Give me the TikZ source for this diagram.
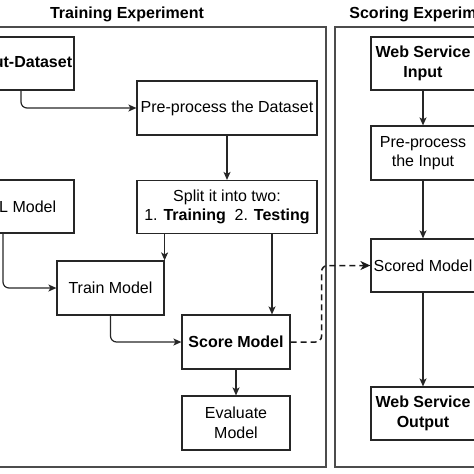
\documentclass[tikz,border=0pt]{standalone}
\usepackage{fontspec}
\setmainfont{Liberation Sans}
\usetikzlibrary{arrows.meta}
\begin{document}
\begin{tikzpicture}[x=1pt,y=-1pt,
  box/.style={rectangle,draw=black!85,line width=1.2pt,fill=white,align=center,inner sep=0pt,font=\fontsize{16}{19.5}\selectfont},
  frame/.style={draw=black!70,line width=1.5pt},
  title/.style={font=\fontsize{16}{19.5}\selectfont\bfseries},
  arr/.style={draw=black!85,line width=1.2pt,-{Stealth[length=8pt,width=7pt,inset=2pt]}},
  dasharr/.style={draw=black!90,line width=1.5pt,dash pattern=on 6pt off 4pt,-{Stealth[length=10pt,width=9pt,inset=3pt]}}]
\useasboundingbox (0,0) rectangle (474,474);
\clip (0,0) rectangle (474,474);

% the two experiments
\draw[frame] (-72,27) rectangle (326,467);
\draw[frame] (335,27) rectangle (515,467);
\node[title] (ttrain) at (127,14) {Training Experiment};
\node[title] (tscore) at (425,14) {Scoring Experiment};

% training
\node[box,minimum width=106,minimum height=53] (data) at (21,63.5) {\textbf{Input-Dataset}};
\node[box,minimum width=106,minimum height=53] (ml) at (21,206.5) {ML Model};
\node[box,minimum width=180,minimum height=54] (prep) at (227,108) {Pre-process the Dataset};
\node[box,minimum width=180,minimum height=53] (split) at (227,207) {Split it into two:\\1. \textbf{Training}\ \ 2. \textbf{Testing}};
\node[box,minimum width=107,minimum height=54] (train) at (110.5,288) {Train Model};
\node[box,minimum width=108,minimum height=54] (score) at (236,342) {\textbf{Score Model}};
\node[box,minimum width=108,minimum height=54] (eval) at (236,423) {Evaluate\\Model};

% scoring
\node[box,minimum width=104,minimum height=53] (wsin) at (423,63.5) {\textbf{Web Service}\\\textbf{Input}};
\node[box,minimum width=104,minimum height=54] (prepin) at (423,153) {Pre-process\\the Input};
\node[box,minimum width=104,minimum height=53] (scored) at (423,265.5) {Scored Model};
\node[box,minimum width=104,minimum height=53] (wsout) at (423,413.5) {\textbf{Web Service}\\\textbf{Output}};

\draw[arr,rounded corners=6] (data.south) |- (prep.west);
\draw[arr] (prep.south) -- (split.north);
\draw[arr,rounded corners=6] ([xshift=-18pt]ml.south) |- (train.west);
\draw[arr] (split.south -| train.north east) -- (train.north east);
\draw[arr] ([xshift=45pt]split.south) -- ([xshift=36pt]score.north);
\draw[arr,rounded corners=6] (train.south) |- (score.west);
\draw[arr] (score.south) -- (eval.north);
\draw[dasharr,rounded corners=6] (score.east) -- ++(31,0) |- (scored.west);
\draw[arr] (wsin.south) -- (prepin.north);
\draw[arr] (prepin.south) -- (scored.north);
\draw[arr] (scored.south) -- (wsout.north);
\end{tikzpicture}
\end{document}
